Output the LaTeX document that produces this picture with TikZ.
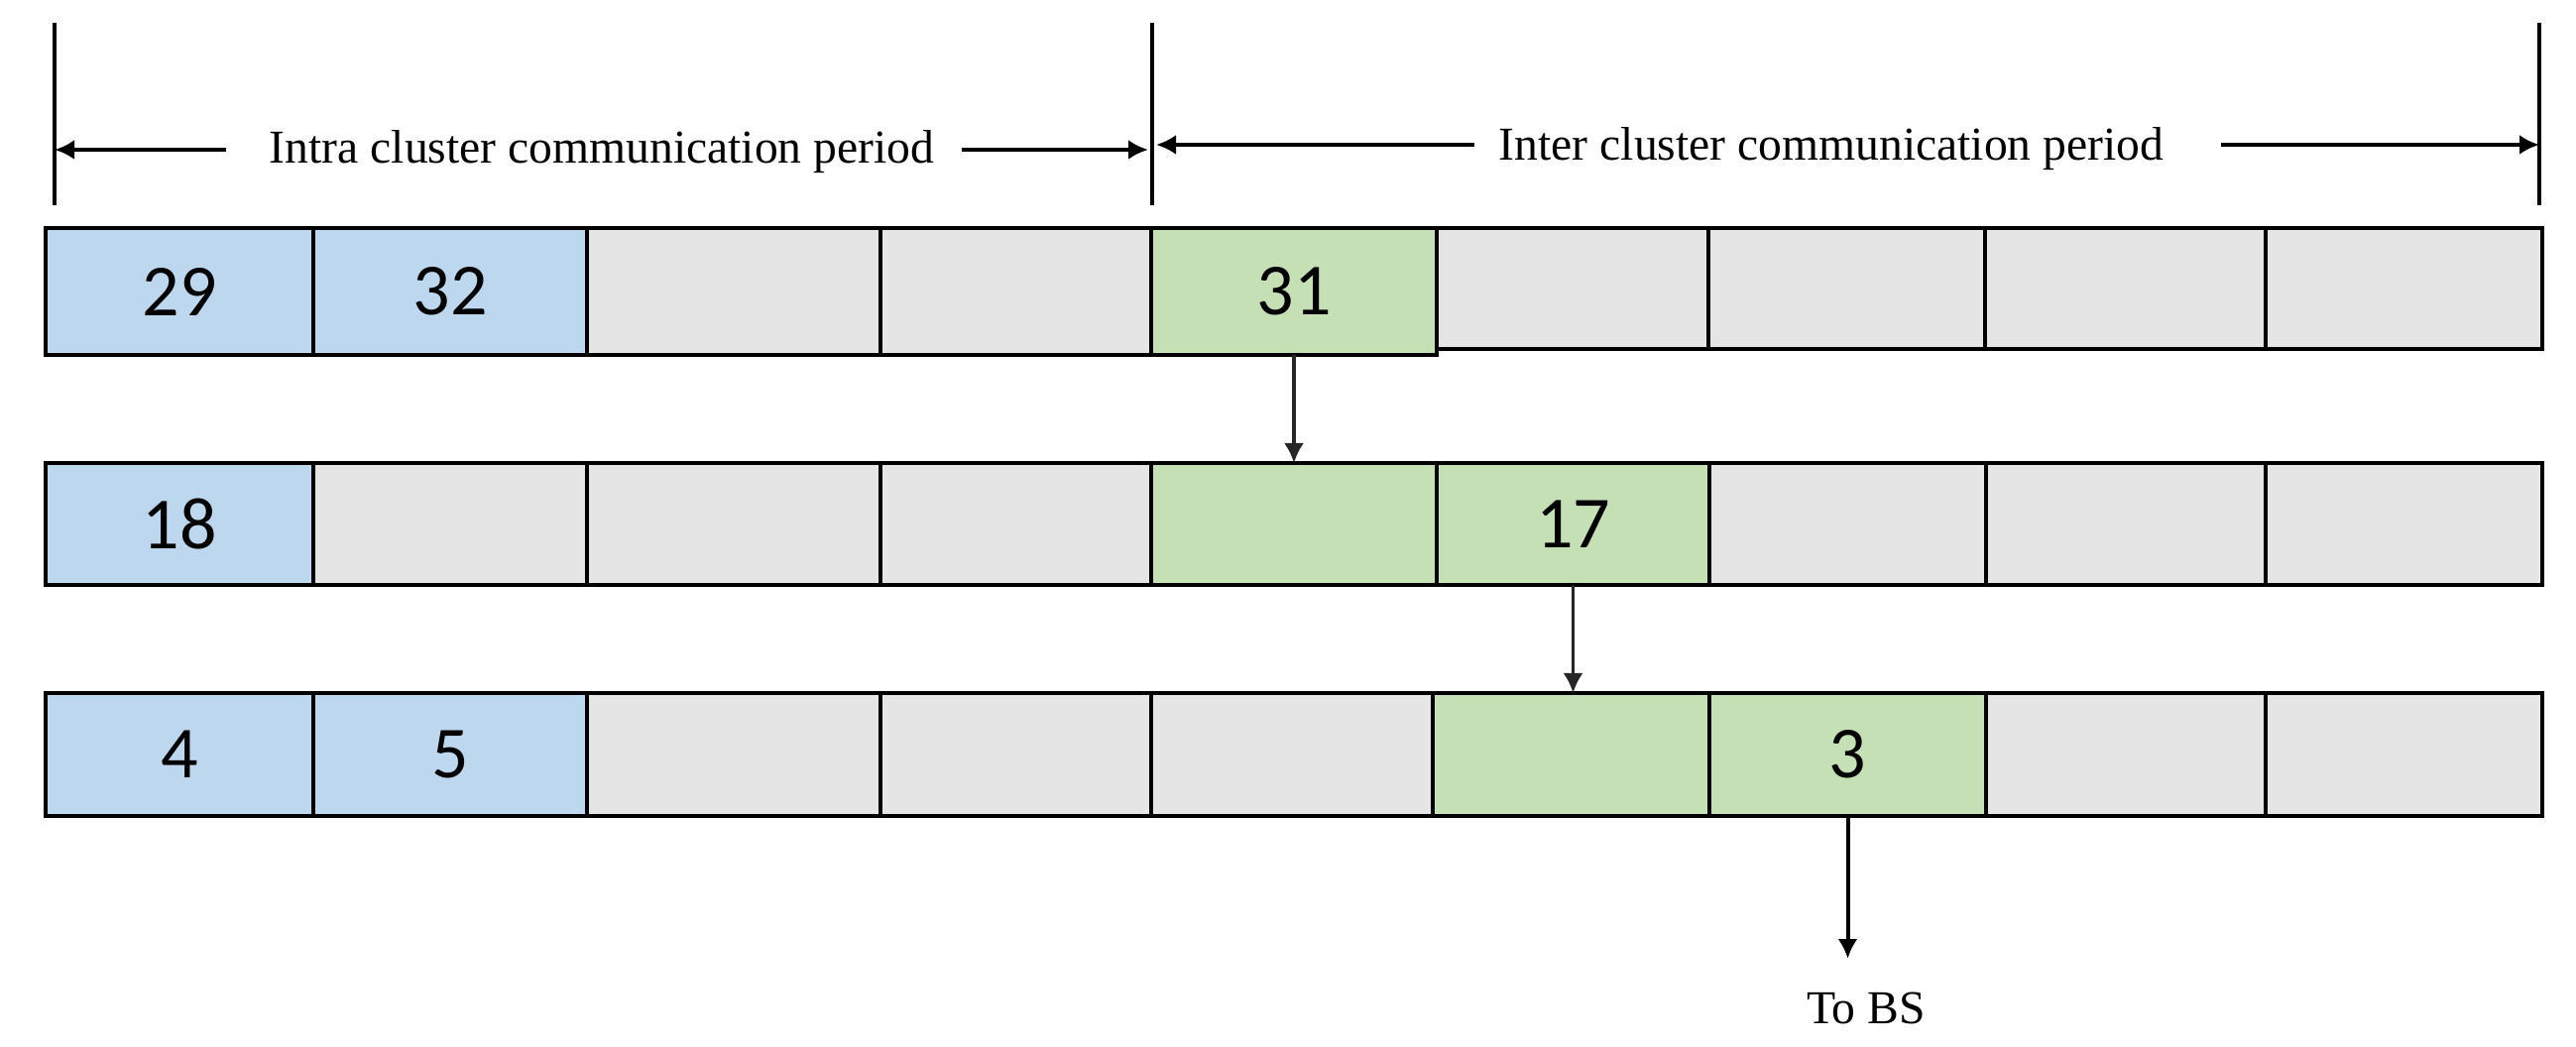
\documentclass[tikz,border=0pt]{standalone}
\usepackage{fontspec}
\setmainfont{Liberation Serif}
\newfontfamily\numfont{Carlito}
\usetikzlibrary{arrows.meta}
\definecolor{cblue}{HTML}{BDD7EE}
\definecolor{cgreen}{HTML}{C5E0B4}
\definecolor{cgrey}{HTML}{E5E5E5}
\begin{document}
\begin{tikzpicture}[x=0.25pt,y=-0.25pt,
  cell/.style={draw=black, line width=1pt, inner sep=0pt, outer sep=0pt,
    font=\numfont\fontsize{18.5pt}{20pt}\selectfont, anchor=center},
  lbl/.style={font=\fontsize{11.9pt}{14pt}\selectfont, inner sep=0pt, anchor=base},
  dim/.style={line width=1pt, -{Latex[length=5pt,width=5pt]}},
  tick/.style={line width=1pt},
  flow/.style={line width=0.9pt, draw=black!85, -{Latex[length=5pt,width=5pt]}}]
\useasboundingbox (0,0) rectangle (2598,1056);
\fill[white] (0,0) rectangle (2598,1056);

% rows of slots
\foreach \n/\xa/\xb/\ya/\yb/\col/\txt in {
  a1/46/316/230/358/cblue/29, a2/316/592/230/358/cblue/32,
  a3/592/888/230/358/cgrey/{}, a4/888/1161/230/358/cgrey/{},
  a5/1161/1449/230/358/cgreen/31, a6/1449/1723/230/352/cgrey/{},
  a7/1723/2002/230/352/cgrey/{}, a8/2002/2285/230/352/cgrey/{},
  a9/2285/2564/230/352/cgrey/{},
  b1/46/316/467/590/cblue/18, b2/316/592/467/590/cgrey/{},
  b3/592/888/467/590/cgrey/{}, b4/888/1161/467/590/cgrey/{},
  b5/1161/1449/467/590/cgreen/{}, b6/1449/1724/467/590/cgreen/17,
  b7/1724/2003/467/590/cgrey/{}, b8/2003/2285/467/590/cgrey/{},
  b9/2285/2564/467/590/cgrey/{},
  c1/46/316/699/823/cblue/4, c2/316/592/699/823/cblue/5,
  c3/592/888/699/823/cgrey/{}, c4/888/1161/699/823/cgrey/{},
  c5/1161/1445/699/823/cgrey/{}, c6/1445/1724/699/823/cgreen/{},
  c7/1724/2003/699/823/cgreen/3, c8/2003/2285/699/823/cgrey/{},
  c9/2285/2564/699/823/cgrey/{}} {
  \pgfmathsetmacro\w{(\xb-\xa)*0.25}
  \pgfmathsetmacro\h{(\yb-\ya)*0.25}
  \node[cell, fill=\col, minimum width=\w pt, minimum height=\h pt] (\n)
    at ({(\xa+\xb)/2},{(\ya+\yb)/2}) {\txt};
}

% header boundary lines
\coordinate (tL1) at (55,23);   \coordinate (tL2) at (55,207);
\coordinate (tM1) at (1162,23); \coordinate (tM2) at (1162,207);
\coordinate (tR1) at (2561,23); \coordinate (tR2) at (2561,207);
\draw[tick] (tL1) -- (tL2);
\draw[tick] (tM1) -- (tM2);
\draw[tick] (tR1) -- (tR2);

% header labels and dimension arrows
\node[lbl] (intra) at (607,165) {Intra cluster communication period};
\node[lbl] (inter) at (1847,162) {Inter cluster communication period};
\coordinate (iaL) at (228,151);  \coordinate (iaR) at (970,151);
\coordinate (eaL) at (1487,146); \coordinate (eaR) at (2240,146);
\draw[dim] (iaL) -- (iaL -| tL1);
\draw[dim] (iaR) -- ([xshift=-1pt]iaR -| tM1);
\draw[dim] (eaL) -- ([xshift=1pt]eaL -| tM1);
\draw[dim] (eaR) -- (eaR -| tR1);

% relay arrows
\draw[flow] (a5.south) -- (b5.north);
\draw[flow] (b6.south) -- (b6.south |- c6.north);
\coordinate (bsend) at (1863.5,967);
\draw[dim] (c7.south) -- (bsend);
\node[lbl] (tobs) at (1882,1032) {To BS};
\end{tikzpicture}
\end{document}
